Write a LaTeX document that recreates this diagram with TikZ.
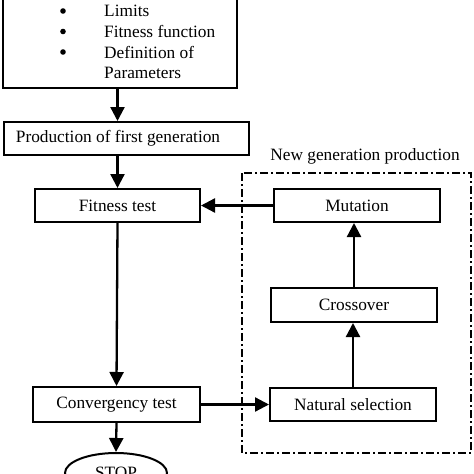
\documentclass[tikz,border=0pt]{standalone}
\usepackage{fontspec}
\setmainfont{Liberation Serif}
\usetikzlibrary{arrows.meta,shapes.geometric}
\begin{document}
\begin{tikzpicture}[x=1pt,y=1pt,
  box/.style={draw,line width=2pt,minimum height=33pt,inner sep=0pt,font=\fontsize{17.3}{20}\selectfont},
  arr/.style={line width=2.3pt,-{Triangle[length=14pt,width=14pt]}},
  txt/.style={inner sep=0pt,anchor=west,font=\fontsize{17.3}{20}\selectfont},
  dashdot/.style={line width=1.8pt,dash pattern=on 8pt off 3pt on 2pt off 3pt}]
\useasboundingbox (0,0) rectangle (474,-474);
\clip (0,0) rectangle (474,-474);
\fill[white] (0,0) rectangle (474,-474);
% top parameter box
\node[box,minimum width=234pt,minimum height=130pt] (params) at (120,-23) {};
\foreach \yy in {11,31.5,52}{\fill (63,-\yy) circle (2.8pt);}
\node[txt] (t1) at (104,-11) {Limits};
\node[txt] (t2) at (104,-31.5) {Fitness function};
\node[txt] (t3) at (104,-52) {Definition of};
\node[txt] (t4) at (104,-72.5) {Parameters};
% main column
\node[box,minimum width=245pt] (prod) at (126,-138.5) {};
\node[inner sep=0pt,font=\fontsize{17.3}{20}\selectfont] (prodtxt) at (118,-138.5) {Production of first generation};
\node[box,minimum width=165pt] (fit) at (117.5,-205.5) {Fitness test};
\node[box,minimum width=167pt,minimum height=35pt] (conv) at (116.5,-404.5) {Convergency test};
\node[draw,ellipse,line width=2pt,minimum width=102pt,minimum height=40pt,inner sep=0pt,font=\fontsize{17.3}{20}\selectfont] (stop) at (116,-473) {STOP};
% right group
\draw[dashdot] (242,-173) rectangle (471,-453);
\node[inner sep=0pt,font=\fontsize{17.3}{20}\selectfont] (lbl) at (365,-156) {New generation production};
\node[box,minimum width=166pt] (mut) at (357,-205.5) {Mutation};
\node[box,minimum width=166pt,minimum height=34pt] (cross) at (354,-305) {Crossover};
\node[box,minimum width=166pt] (nat) at (353,-404.5) {Natural selection};
% arrows
\draw[arr] (params.south -| fit.north) -- (prod.north -| fit.north);
\draw[arr] (prod.south -| fit.north) -- (fit.north);
\draw[arr] (fit.south) -- (conv.north);
\draw[arr] (conv.south) -- (stop.north);
\draw[arr] (conv.east) -- (nat.west);
\draw[arr] (nat.north) -- (nat.north |- cross.south);
\draw[arr] (cross.north) -- (cross.north |- mut.south);
\draw[arr] (mut.west) -- (fit.east);
\end{tikzpicture}
\end{document}
